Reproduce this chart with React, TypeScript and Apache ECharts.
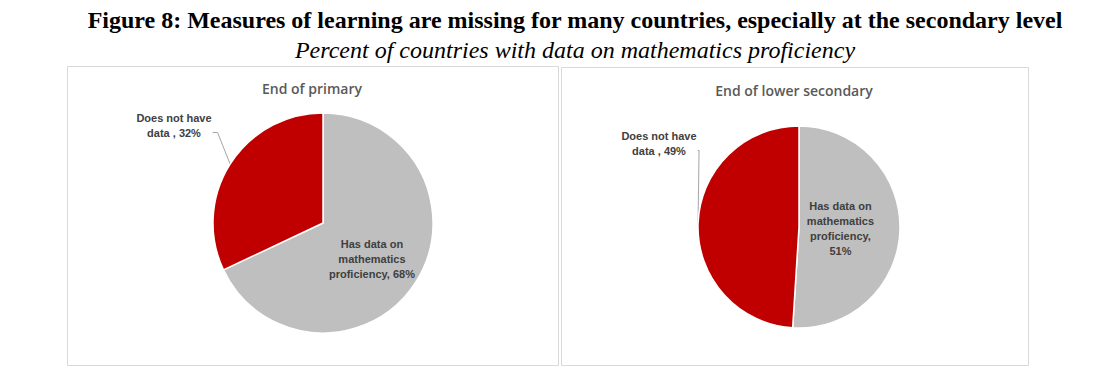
import { useEffect, useRef } from "react";
import * as echarts from "echarts";

const FIGURE_TITLE =
  "Figure 8: Measures of learning are missing for many countries, especially at the secondary level";
const FIGURE_SUBTITLE = "Percent of countries with data on mathematics proficiency";
const PANEL_TITLES = ["End of primary", "End of lower secondary"];
const CATEGORIES = ["Has data on mathematics proficiency", "Does not have data"];
const PRIMARY_VALUES = [68, 32];
const SECONDARY_VALUES = [51, 49];
const HAS_DATA_LABELS = [
  "Has data on\nmathematics\nproficiency, {c}%",
  "Has data on\nmathematics\nproficiency,\n{c}%",
];
const MISSING_LABEL = "Does not have\ndata , {c}%";
const COLORS = ["#bfbfbf", "#c00000"];

const W = 1114;
const H = 381;

type Panel = {
  box: [number, number, number, number];
  center: [number, number];
  r: number;
  titleY: number;
  anchor: [number, number];
  kneeMode: "diag" | "vertical";
  insideShift: [number, number];
};

const PANELS: Panel[] = [
  {
    box: [67, 66, 491, 299],
    center: [323, 223],
    r: 110,
    titleY: 88,
    anchor: [174, 125],
    kneeMode: "diag",
    insideShift: [0, 5],
  },
  {
    box: [561, 67, 467, 298],
    center: [799, 227],
    r: 101,
    titleY: 90,
    anchor: [659, 143],
    kneeMode: "vertical",
    insideShift: [-12, 0],
  },
];

function makeSeries(values: number[], idx: number) {
  const p = PANELS[idx];
  const total = values.reduce((a, b) => a + b, 0);
  const midFrac = (values[0] + values[1] / 2) / total;
  const theta = midFrac * Math.PI * 2;
  const edge: [number, number] = [
    p.center[0] + p.r * Math.sin(theta),
    p.center[1] - p.r * Math.cos(theta),
  ];
  return {
    type: "pie",
    center: p.center,
    radius: [0, p.r],
    startAngle: 90,
    clockwise: true,
    silent: true,
    avoidLabelOverlap: false,
    itemStyle: { borderColor: "#ffffff", borderWidth: 1.5 },
    label: {
      color: "#404040",
      fontFamily: "Liberation Sans, Arial, sans-serif",
      fontWeight: "bold",
      fontSize: 11,
      lineHeight: 15,
      align: "center",
    },
    labelLine: {
      show: true,
      length: 10,
      length2: 5,
      lineStyle: { color: "#a6a6a6", width: 1 },
    },
    labelLayout: (params: any) => {
      if (params.dataIndex === 1) {
        const [x, y] = p.anchor;
        const w = params.labelRect.width;
        const h = params.labelRect.height;
        const endX = x + w / 2 + 1;
        const lineY = y + h / 4;
        const e =
          params.labelLinePoints && params.labelLinePoints[0]
            ? params.labelLinePoints[0]
            : edge;
        const knee =
          p.kneeMode === "diag" ? [endX + 5, lineY] : [e[0] + 1, lineY];
        return {
          x,
          y,
          align: "center",
          verticalAlign: "middle",
          labelLinePoints: [e, knee, [endX, lineY]],
        };
      }
      return { dx: p.insideShift[0], dy: p.insideShift[1] };
    },
    data: [
      {
        name: CATEGORIES[0],
        value: values[0],
        itemStyle: { color: COLORS[0] },
        label: { position: "inside", formatter: HAS_DATA_LABELS[idx] },
        labelLine: { show: false },
      },
      {
        name: CATEGORIES[1],
        value: values[1],
        itemStyle: { color: COLORS[1] },
        label: { position: "outside", formatter: MISSING_LABEL },
        labelLine: { show: true },
      },
    ],
  };
}

export default function App() {
  const ref = useRef<HTMLDivElement>(null);
  useEffect(() => {
    document.body.style.margin = "0";
    if (!ref.current) return;
    const chart = echarts.init(ref.current, undefined, { renderer: "svg" });
    const graphics: any[] = [];
    PANELS.forEach((p, i) => {
      graphics.push({
        type: "rect",
        shape: { x: p.box[0] + 0.5, y: p.box[1] + 0.5, width: p.box[2], height: p.box[3] },
        style: { fill: "#ffffff", stroke: "#d9d9d9", lineWidth: 1 },
        z: -10,
      });
      graphics.push({
        type: "text",
        x: p.box[0] + p.box[2] / 2 - 0.5,
        y: p.titleY,
        style: {
          text: PANEL_TITLES[i],
          align: "center",
          verticalAlign: "middle",
          fontSize: 14,
          fontWeight: 600,
          fontFamily: "Open Sans, Liberation Sans, sans-serif",
          fill: "#595959",
        },
      });
    });
    graphics.push({
      type: "text",
      x: 575,
      y: 20,
      style: {
        text: FIGURE_TITLE,
        align: "center",
        verticalAlign: "middle",
        fontSize: 24,
        fontWeight: "bold",
        fontFamily: "Liberation Serif, Times New Roman, serif",
        fill: "#000000",
      },
    });
    graphics.push({
      type: "text",
      x: 575,
      y: 50,
      style: {
        text: FIGURE_SUBTITLE,
        align: "center",
        verticalAlign: "middle",
        fontSize: 24,
        fontStyle: "italic",
        fontFamily: "Liberation Serif, Times New Roman, serif",
        fill: "#000000",
      },
    });
    chart.setOption({
      animation: false,
      backgroundColor: "#ffffff",
      graphic: graphics,
      series: [makeSeries(PRIMARY_VALUES, 0), makeSeries(SECONDARY_VALUES, 1)],
    });
    return () => chart.dispose();
  }, []);
  return <div ref={ref} style={{ width: W, height: H }} />;
}
